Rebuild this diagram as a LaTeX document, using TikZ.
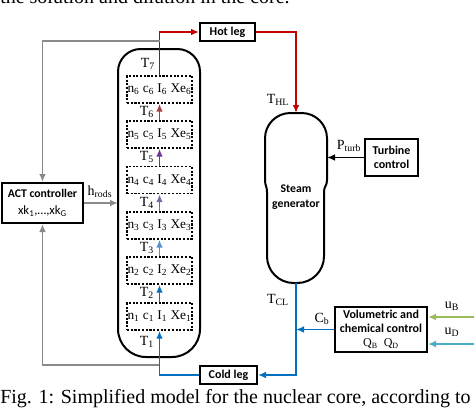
\documentclass[tikz,border=0pt]{standalone}
\usepackage{fontspec}
\setmainfont{Liberation Serif}
\newfontfamily\calfont{Carlito}
\usetikzlibrary{arrows.meta}
\definecolor{cred}{HTML}{C00000}
\definecolor{cgray}{HTML}{8A8A8A}
\definecolor{cblue}{HTML}{0070C0}
\definecolor{cdred}{HTML}{A0403E}
\definecolor{cpurp}{HTML}{7030A0}
\definecolor{cpurpl}{HTML}{8064A2}
\definecolor{cblul}{HTML}{558ED5}
\definecolor{cgreen}{HTML}{9BBB59}
\definecolor{ccyan}{HTML}{4BACC6}
\tikzset{
  blk/.style={draw, line width=1.5pt, align=center, inner sep=0pt, font=\calfont\bfseries\fontsize{9}{10.5}\selectfont},
  cell/.style={draw, dashed, dash pattern=on 1.6pt off 1.2pt, line width=1.1pt, inner sep=0pt, minimum width=65*0.75pt, minimum height=27*0.75pt, font=\fontsize{10}{12}\selectfont},
  conn/.style={line width=1.2pt, -{Latex[length=6pt,width=5pt]}},
  lbl/.style={inner sep=0pt, font=\fontsize{10.5}{12}\selectfont},
  outl/.style={line width=1.5pt},
  captext/.style={anchor=base west, inner sep=0pt, font=\fontsize{15}{17}\selectfont}
}
\newcommand{\sbs}[1]{\textsubscript{#1}}
\begin{document}
\begin{tikzpicture}[x=0.75pt,y=-0.75pt]
\useasboundingbox (0,0) rectangle (474,408);
\clip (0,0) rectangle (474,408);
% captions
\node[captext] (captop) at (0,3) {the solution and dilution in the core.};
\node[captext] (cap) at (0,403) {Fig. 1: Simplified model for the nuclear core, according to};
% vessel
\draw[outl, rounded corners=17pt] (118,200) -- (118,49) -- (200,49) -- (200,200);
\draw[outl, rounded corners=21pt] (118,200) -- (118,357) -- (200,357) -- (200,200);
% cells
\node[cell] (b6) at (159.5,89.5) {n\sbs{6} c\sbs{6} I\sbs{6} Xe\sbs{6}};
\node[cell] (b5) at (159.5,134.5) {n\sbs{5} c\sbs{5} I\sbs{5} Xe\sbs{5}};
\node[cell] (b4) at (159.5,180) {n\sbs{4} c\sbs{4} I\sbs{4} Xe\sbs{4}};
\node[cell] (b3) at (159.5,225.5) {n\sbs{3} c\sbs{3} I\sbs{3} Xe\sbs{3}};
\node[cell] (b2) at (159.5,270.5) {n\sbs{2} c\sbs{2} I\sbs{2} Xe\sbs{2}};
\node[cell] (b1) at (159.5,316.5) {n\sbs{1} c\sbs{1} I\sbs{1} Xe\sbs{1}};
% T labels
\node[lbl] (t7) at (148,64) {T\sbs{7}};
\node[lbl] (t6) at (147,112) {T\sbs{6}};
\node[lbl] (t5) at (147,157) {T\sbs{5}};
\node[lbl] (t4) at (147,203) {T\sbs{4}};
\node[lbl] (t3) at (147,248) {T\sbs{3}};
\node[lbl] (t2) at (147,293) {T\sbs{2}};
\node[lbl] (t1) at (147,342) {T\sbs{1}};
% inter-cell arrows
\draw[conn, cblue] (b1.north) -- (b2.south);
\draw[conn, cblul] (b2.north) -- (b3.south);
\draw[conn, cpurpl] (b3.north) -- (b4.south);
\draw[conn, cpurp] (b4.north) -- (b5.south);
\draw[conn, cdred] (b5.north) -- (b6.south);
% boxes
\node[blk, minimum width=55*0.75pt, minimum height=18*0.75pt] (hot) at (227.5,32) {Hot leg};
\node[blk, minimum width=57*0.75pt, minimum height=18*0.75pt] (cold) at (228.5,375) {Cold leg};
\node[blk, minimum width=81*0.75pt, minimum height=40*0.75pt, font=\calfont\bfseries\fontsize{8.8}{12.5}\selectfont] (act) at (42.5,203) {ACT controller\\{\mdseries\fontsize{9.5}{12.5}\selectfont xk\sbs{1},\dots,xk\sbs{G}}};
\node[blk, minimum width=53*0.75pt, minimum height=37*0.75pt] (turb) at (391.5,157.5) {Turbine\\control};
\node[blk, minimum width=92*0.75pt, minimum height=45*0.75pt] (vol) at (381,329.5) {Volumetric and\\chemical control\\{\normalfont\mdseries Q\sbs{B}\ \ Q\sbs{D}}};
% steam generator
\draw[outl, rounded corners=19pt] (265,180) -- (265,113) -- (327,113) -- (327,180);
\draw[outl, rounded corners=20pt] (324,192) -- (324,283) -- (267,283) -- (267,192);
\draw[outl] (265,180) .. controls (265,186) and (267,186) .. (267,192);
\draw[outl] (327,180) .. controls (327,186) and (324,186) .. (324,192);
\node[align=center, inner sep=0pt, font=\calfont\bfseries\fontsize{8.8}{11}\selectfont] (sg) at (296,197) {Steam\\generator};
\coordinate (sgtop) at (296,113);
\coordinate (sgbot) at (296,283);
\coordinate (sgright) at (327,158);
% coordinates
\coordinate (gtop) at (159.5,41);
\coordinate (gbot) at (159.5,365);
\coordinate (vesL) at (118,203);
\coordinate (uB) at (474,317);
\coordinate (uD) at (474,344);
% red
\draw[conn, cred] (b6.north) |- (hot.west);
\draw[conn, cred] (hot.east) -| (sgtop);
% gray
\draw[conn, cgray] (gtop) -| (act.north);
\draw[conn, cgray] (gbot) -| (act.south);
\draw[conn, cgray] (act.east) -- (vesL);
% blue
\draw[conn, cblue] (sgbot) |- (cold.east);
\draw[conn, cblue] (cold.west) -| (b1.south);
\draw[conn, cblue] (vol.west) -- (vol.west -| sgbot);
% turbine
\draw[conn, black] (turb.west) -- (turb.west -| sgright);
% inputs
\draw[conn, cgreen] (uB) -- (uB -| vol.east);
\draw[conn, ccyan] (uD) -- (uD -| vol.east);
% labels
\node[lbl] (lh) at (100,192) {h\sbs{rods}};
\node[lbl] (lthl) at (278,100) {T\sbs{HL}};
\node[lbl] (ltcl) at (278,300) {T\sbs{CL}};
\node[lbl] (lp) at (349,146) {P\sbs{turb}};
\node[lbl] (lcb) at (322,319) {C\sbs{b}};
\node[lbl] (lub) at (452,306) {u\sbs{B}};
\node[lbl] (lud) at (452,332) {u\sbs{D}};
\end{tikzpicture}
\end{document}
